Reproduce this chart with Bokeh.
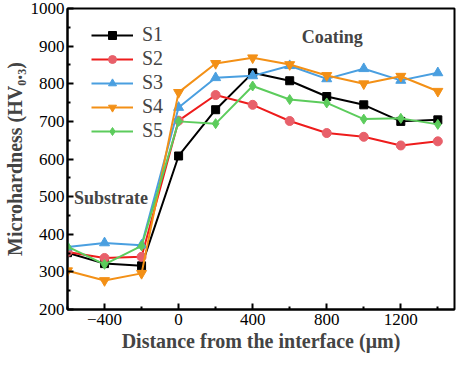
from bokeh.plotting import figure
from bokeh.embed import file_html
from bokeh.resources import INLINE
from bokeh.models import Legend, LegendItem, FixedTicker, Label, Range1d

x = [-600, -400, -200, 0, 200, 400, 600, 800, 1000, 1200, 1400]
s1 = [351, 322, 316, 608, 731, 829, 808, 766, 744, 700, 704]
s2 = [353, 337, 340, 702, 770, 744, 701, 669, 659, 636, 647]
s3 = [366, 377, 371, 737, 816, 821, 848, 813, 840, 809, 829]
s4 = [303, 277, 296, 777, 854, 869, 851, 822, 800, 820, 780]
s5 = [367, 320, 369, 700, 694, 794, 758, 749, 706, 708, 692]

names = ["S1", "S2", "S3", "S4", "S5"]
series = [s1, s2, s3, s4, s5]
line_colors = ["#000000", "#ee1c1c", "#4a9fe0", "#f39016", "#5ccc5c"]
marker_colors = ["#000000", "#e8606a", "#4a9fe0", "#f39016", "#5ccc5c"]
markers = ["square", "circle", "triangle", "inverted_triangle", "diamond"]
marker_sizes = [8, 9, 10, 10, 10]

FONT = "Liberation Serif"

p = figure(width=458, height=354, output_backend="svg", toolbar_location=None,
           x_range=Range1d(-600, 1490), y_range=Range1d(200, 1000),
           min_border_left=54, min_border_right=4, min_border_top=8, min_border_bottom=44)
p.grid.visible = False
p.outline_line_color = "black"
p.outline_line_width = 2
p.background_fill_color = "white"

items = []
for nm, ys, lc, mc, mk, ms in zip(names, series, line_colors, marker_colors, markers, marker_sizes):
    r1 = p.line(x, ys, line_color=lc, line_width=2)
    r2 = p.scatter(x, ys, marker=mk, size=ms, fill_color=mc, line_color=mc)
    items.append(LegendItem(label=nm, renderers=[r1, r2]))

legend = Legend(items=items, location=(22, 165), border_line_alpha=0,
                background_fill_alpha=0, label_text_font=FONT,
                label_text_font_size="20px", glyph_width=42, glyph_height=20,
                label_height=20, spacing=1, padding=2, label_standoff=9)
p.add_layout(legend, "center")

for ax in (p.xaxis, p.yaxis):
    ax.axis_line_width = 2
    ax.major_tick_in = 6
    ax.major_tick_out = 0
    ax.minor_tick_in = 3
    ax.minor_tick_out = 0
    ax.major_tick_line_width = 2
    ax.minor_tick_line_width = 2
    ax.major_label_text_font = FONT
    ax.major_label_text_font_size = "17px"
    ax.major_label_text_color = "black"
    ax.axis_label_text_font = FONT
    ax.axis_label_text_font_style = "bold"
    ax.axis_label_text_font_size = "20px"

p.xaxis.ticker = FixedTicker(ticks=[-400, 0, 400, 800, 1200],
                             minor_ticks=[-600, -200, 200, 600, 1000, 1400])
p.yaxis.ticker = FixedTicker(ticks=[200, 300, 400, 500, 600, 700, 800, 900, 1000],
                             minor_ticks=[250, 350, 450, 550, 650, 750, 850, 950])
p.xaxis.axis_label = "Distance from the interface (\u03bcm)"
p.yaxis.axis_label = "Microhardness (HV\u2080.\u2083)"
p.xaxis.major_label_standoff = 4
p.yaxis.major_label_standoff = 3
p.xaxis.axis_label_standoff = 2
p.yaxis.axis_label_standoff = 2

p.add_layout(Label(x=830, y=925, text="Coating", text_font=FONT,
                   text_font_style="bold", text_font_size="18px",
                   text_align="center", text_baseline="middle"))
p.add_layout(Label(x=-565, y=497, text="Substrate", text_font=FONT,
                   text_font_style="bold", text_font_size="18px",
                   text_align="left", text_baseline="middle"))

open("out.html", "w").write(file_html(p, INLINE))
